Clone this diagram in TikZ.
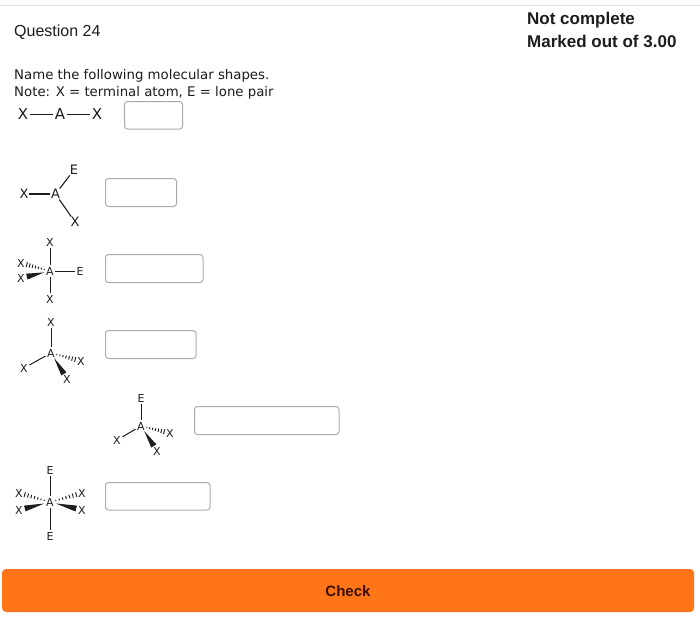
\documentclass[tikz,border=0pt]{standalone}
\usepackage{fontspec}
\setmainfont{DejaVu Sans}
\newfontfamily\headfont{Liberation Sans}
\usetikzlibrary{calc}
\definecolor{btn}{HTML}{FF7518}
\definecolor{boxline}{HTML}{ABABAB}
\definecolor{inktext}{HTML}{1D1D1D}
\definecolor{btntext}{HTML}{3A0F00}
\tikzset{
  answerbox/.style={draw=boxline,line width=1pt,rounded corners=3pt,fill=white},
  heading/.style={font=\headfont\fontsize{16}{18}\selectfont,text=inktext,inner sep=0pt,anchor=base west},
  headingbold/.style={font=\headfont\bfseries\fontsize{17}{18}\selectfont,text=inktext,inner sep=0pt,anchor=base west},
  bodytext/.style={font=\fontsize{13.3}{16}\selectfont,text=inktext,inner sep=0pt,anchor=base west},
  atomL/.style={font=\fontsize{15}{15}\selectfont,text=inktext,inner sep=1.5pt},
  atomM/.style={font=\fontsize{13}{13}\selectfont,text=inktext,inner sep=0.5pt},
  atomS/.style={font=\fontsize{11}{11}\selectfont,text=inktext,inner sep=1.5pt},
  bond/.style={draw=inktext,line width=1.1pt},
  thinbond/.style={draw=inktext,line width=1pt},
}
% wedge bond: narrow at #1, wide at #2
\newcommand{\wedgebond}[2]{%
  \fill[inktext] ($(#1)!6pt!(#2)$) -- ($($(#2)!6pt!(#1)$)!3pt!90:(#1)$) -- ($($(#2)!6pt!(#1)$)!3pt!-90:(#1)$) -- cycle;}
% hashed bond: narrow at #1, wide at #2
\newcommand{\hashbond}[2]{%
  \foreach \t/\w in {0/0.6,1/0.9,2/1.2,3/1.5,4/1.8,5/2.1,6/2.4}{%
    \draw[inktext,line width=0.95pt]
      let \n1={\t/6} in
      ($($(#1)!6pt!(#2)$)!\n1!($(#2)!6pt!(#1)$)!\w pt!90:(#2)$) --
      ($($(#1)!6pt!(#2)$)!\n1!($(#2)!6pt!(#1)$)!\w pt!-90:(#2)$);}}
\begin{document}
\begin{tikzpicture}[x=1pt,y=-1pt]
\useasboundingbox (0,0) rectangle (700,627);
\fill[white] (0,0) rectangle (700,627);
\draw[draw=black!12,line width=1pt] (0,5.5) coordinate (ruleL) -- (700,5.5) coordinate (ruleR);
\node[heading] (qn) at (14,36) {Question 24};
\node[headingbold] (nc) at (527,24.5) {Not complete};
\node[headingbold] (mk) at (527,47) {Marked out of 3.00};
\node[bodytext] (t1) at (14,79) {Name the following molecular shapes.};
\node[bodytext] (t2) at (14,96) {Note: X = terminal atom, E = lone pair};
% answer boxes
\draw[answerbox] (124.5,101.5) rectangle (182.5,129);
\draw[answerbox] (105.5,178.5) rectangle (176.5,206.5);
\draw[answerbox] (105.5,254.5) rectangle (203,282.5);
\draw[answerbox] (105.5,330.5) rectangle (196,358.5);
\draw[answerbox] (194.5,406.5) rectangle (339,434.5);
\draw[answerbox] (105.5,482.5) rectangle (210,510);
% molecule 1
\node[atomL] (a1) at (60,114.5) {A};
\node[atomL] (a1l) at (23,114.5) {X};
\node[atomL] (a1r) at (97,114.5) {X};
\draw[bond] (a1l) -- (a1);
\draw[bond] (a1) -- (a1r);
% molecule 2
\node[atomM] (a2) at (55.5,194) {A};
\node[atomM] (a2l) at (24,194) {X};
\node[atomM] (a2e) at (74,170) {E};
\node[atomM] (a2x) at (75,222) {X};
\draw[bond] (a2l) -- (a2);
\draw[bond] (a2) -- (a2e);
\draw[bond] (a2) -- (a2x);
% molecule 3
\node[atomS] (a3) at (50,271) {A};
\node[atomS] (a3t) at (50,242) {X};
\node[atomS] (a3b) at (50,299) {X};
\node[atomS] (a3e) at (80,271) {E};
\node[atomS] (a3h) at (21,263) {X};
\node[atomS] (a3w) at (21,278) {X};
\draw[thinbond] (a3t) -- (a3);
\draw[thinbond] (a3) -- (a3b);
\draw[thinbond] (a3) -- (a3e);
\hashbond{a3}{a3h}
\wedgebond{a3}{a3w}
% molecule 4
\node[atomS] (a4) at (51,353) {A};
\node[atomS] (a4t) at (51,322) {X};
\node[atomS] (a4l) at (24,368) {X};
\node[atomS] (a4h) at (81,361) {X};
\node[atomS] (a4w) at (67,379) {X};
\draw[thinbond] (a4t) -- (a4);
\draw[thinbond] (a4l) -- (a4);
\hashbond{a4}{a4h}
\wedgebond{a4}{a4w}
% molecule 5
\node[atomS] (a5) at (141,426) {A};
\node[atomS] (a5t) at (141,398) {E};
\node[atomS] (a5l) at (117,440) {X};
\node[atomS] (a5h) at (170,433) {X};
\node[atomS] (a5w) at (157,451) {X};
\draw[thinbond] (a5t) -- (a5);
\draw[thinbond] (a5l) -- (a5);
\hashbond{a5}{a5h}
\wedgebond{a5}{a5w}
% molecule 6
\node[atomS] (a6) at (50,502) {A};
\node[atomS] (a6t) at (50,470) {E};
\node[atomS] (a6b) at (50,536) {E};
\node[atomS] (a6lh) at (19,493) {X};
\node[atomS] (a6lw) at (19,510) {X};
\node[atomS] (a6rh) at (82,493) {X};
\node[atomS] (a6rw) at (82,510) {X};
\draw[thinbond] (a6t) -- (a6);
\draw[thinbond] (a6) -- (a6b);
\hashbond{a6}{a6lh}
\hashbond{a6}{a6rh}
\wedgebond{a6}{a6lw}
\wedgebond{a6}{a6rw}
% button
\fill[btn,rounded corners=4pt] (2,569) rectangle (694,612);
\node[font=\headfont\bfseries\fontsize{15}{18}\selectfont,text=btntext,inner sep=0pt] (chk) at (348,591) {Check};
\end{tikzpicture}
\end{document}
